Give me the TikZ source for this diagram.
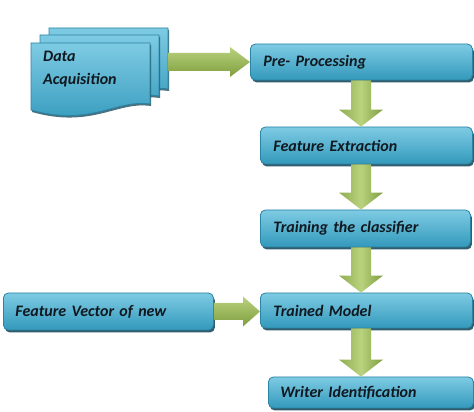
\documentclass[tikz,border=0pt]{standalone}
\usepackage{fontspec}
\setmainfont{Carlito}
\usetikzlibrary{calc,shadows}
\definecolor{boxtop}{HTML}{7ECBE3}
\definecolor{boxbot}{HTML}{3399BC}
\definecolor{boxline}{HTML}{2A84A4}
\definecolor{boxshadow}{HTML}{1B4D5E}
\definecolor{gtop}{HTML}{B9D27E}
\definecolor{gbot}{HTML}{7F9E3E}
\definecolor{txt}{HTML}{101820}
\tikzset{
  lbl/.style={font=\fontsize{16}{18}\selectfont\bfseries\itshape, text=txt},
  stage/.style={lbl, rounded corners=5pt, draw=boxline, line width=0.8pt,
    top color=boxtop, bottom color=boxbot,
    drop shadow={shadow xshift=1.5pt, shadow yshift=-2.5pt, fill=boxshadow, opacity=0.9},
    align=left, inner xsep=13pt, inner ysep=0pt, anchor=west},
  docsheet/.style={draw=boxline, line width=0.8pt, top color=boxtop, bottom color=boxbot,
    drop shadow={shadow xshift=1pt, shadow yshift=-2pt, fill=boxshadow, opacity=0.8}},
  garrowH/.style={top color=gtop, bottom color=gbot},
  garrowV/.style={left color=gbot!70!gtop, right color=gbot, middle color=gtop},
}
\newcommand\fatH[5]{%
  \path[garrowH] let \p1=(#1), \p2=(#2) in
    (\x1,\y1+#3) -- (\x2-#5,\y1+#3) -- (\x2-#5,\y1+#4) -- (\x2,\y1)
    -- (\x2-#5,\y1-#4) -- (\x2-#5,\y1-#3) -- (\x1,\y1-#3) -- cycle;}
\newcommand\fatV[5]{%
  \path[garrowV] let \p1=(#1), \p2=(#2) in
    (\x1-#3,\y1) -- (\x1-#3,\y2+#5) -- (\x1-#4,\y2+#5) -- (\x1,\y2)
    -- (\x1+#4,\y2+#5) -- (\x1+#3,\y2+#5) -- (\x1+#3,\y1) -- cycle;}
\newcommand\docsheetpath{(0,0) -- (119,0) -- (119,-61) .. controls (85,-56) and (60,-84) .. (0,-67) -- cycle}
\begin{document}
\begin{tikzpicture}[x=1pt,y=1pt]
\useasboundingbox (0,0) rectangle (474,412);
% boxes
\node[stage, text width=196pt, minimum height=36pt] (pre) at (250,350) {Pre- Processing};
\node[stage, text width=186pt, minimum height=37pt] (feat) at (260,266.5) {Feature Extraction};
\node[stage, text width=184pt, minimum height=37pt] (train) at (260,183.5) {Training the classifier};
\node[stage, text width=186pt, minimum height=35pt] (model) at (260,101.5) {Trained Model};
\node[stage, text width=181pt, minimum height=31pt, inner xsep=12pt] (writer) at (268,19.5) {Writer Identification};
\node[stage, text width=186pt, minimum height=37pt, inner xsep=12pt] (fv) at (3,100.5) {Feature Vector of new};
% multi-document
\begin{scope}[shift={(49,384)}]
  \path[docsheet] \docsheetpath;
\end{scope}
\begin{scope}[shift={(40,377)}]
  \path[docsheet] \docsheetpath;
\end{scope}
\begin{scope}[shift={(31,369)}]
  \path[docsheet] \docsheetpath;
\end{scope}
\node[minimum width=137pt, minimum height=70pt, inner sep=0pt] (acq) at (99.5,350) {};
\node[lbl, anchor=north west, align=left, inner sep=0pt] (acqtext) at (43,361) {Data\\[5pt]Acquisition};
% arrows
\coordinate (ax) at (361,0);
\fatH{acq.east}{pre.west}{9pt}{15pt}{20pt}
\fatH{fv.east}{model.west}{8.5pt}{15pt}{17pt}
\fatV{pre.south -| ax}{feat.north -| ax}{10pt}{22pt}{17pt}
\fatV{feat.south -| ax}{train.north -| ax}{10pt}{22pt}{17pt}
\fatV{train.south -| ax}{model.north -| ax}{10pt}{22pt}{17pt}
\fatV{model.south -| ax}{writer.north -| ax}{10pt}{22pt}{17pt}
\end{tikzpicture}
\end{document}
